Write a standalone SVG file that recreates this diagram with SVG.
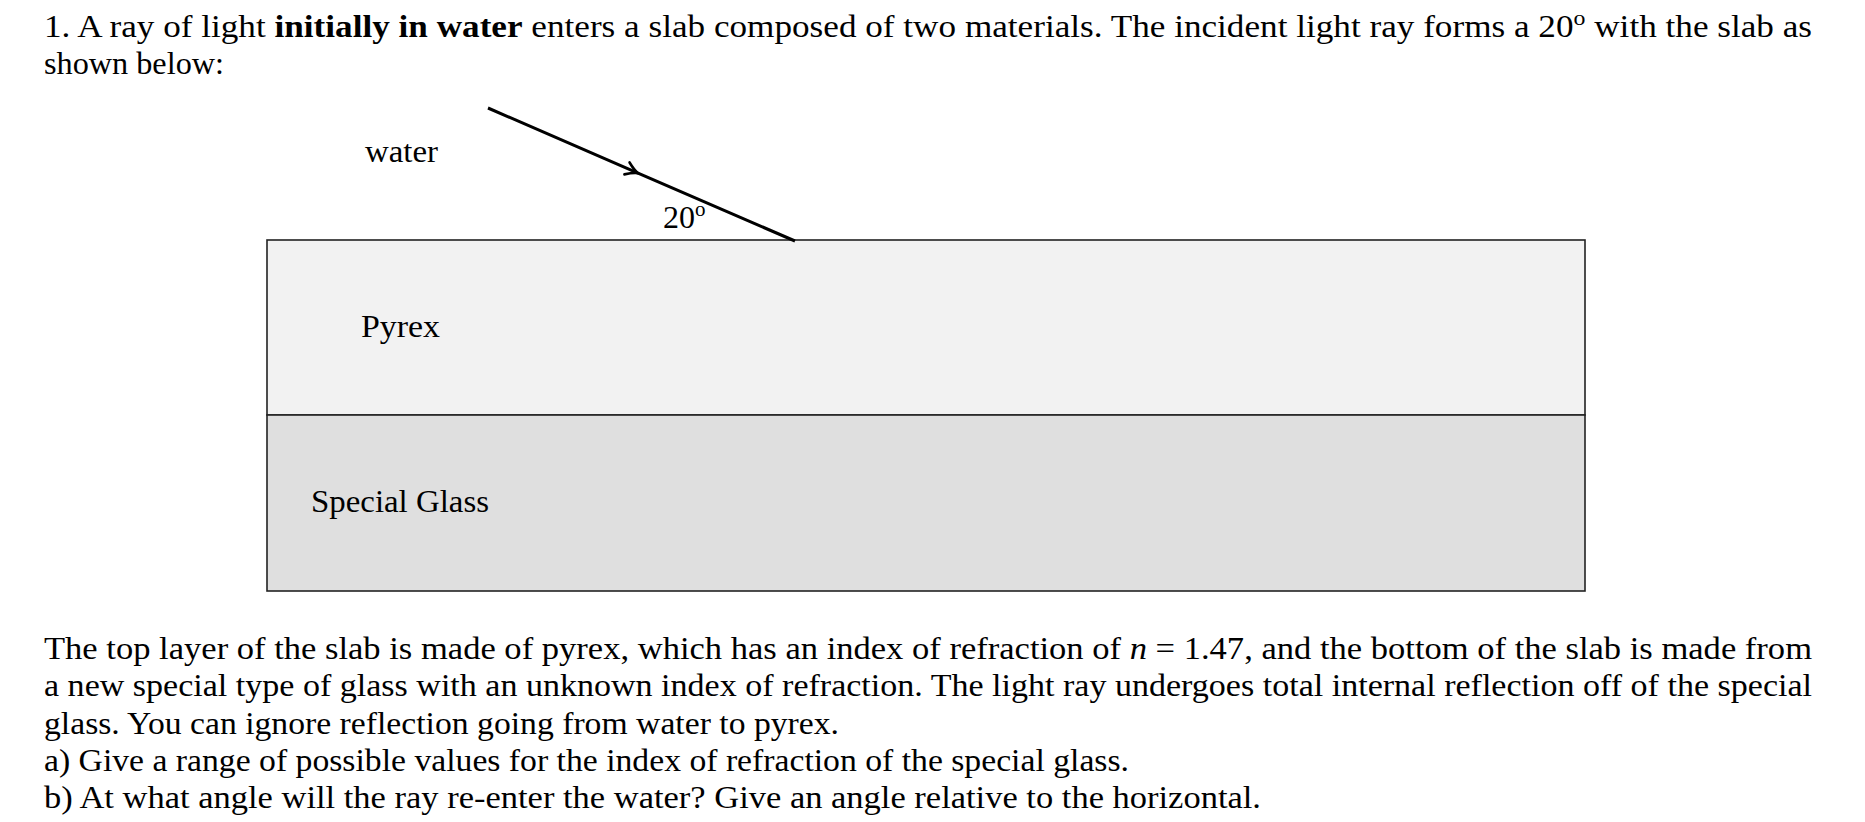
<svg xmlns="http://www.w3.org/2000/svg" width="1865" height="822" viewBox="0 0 1865 822">
<style>
  text { font-family: "Liberation Serif", "Times New Roman", serif; fill: #000; }
  .body { font-size: 31px; }
  .lbl { font-size: 32px; }
  .b { font-weight: bold; }
  .i { font-style: italic; }
  .layer { stroke: #222; stroke-width: 1.6; }
  .ray { stroke: #000; stroke-width: 3; fill: none; }
</style>
<defs>
  <marker id="arr" markerWidth="18" markerHeight="16" viewBox="-14 -8 16 16" refX="0" refY="0" orient="auto" markerUnits="userSpaceOnUse">
    <path d="M -12 -6.5 Q -5 -1.5 0 0 Q -5 1.5 -12 6.5" fill="none" stroke="#000" stroke-width="2.6" stroke-linecap="round"/>
  </marker>
</defs>
<rect width="1865" height="822" fill="#fff"/>

<g id="text-top" class="body">
  <text x="44" y="37" textLength="1768" lengthAdjust="spacingAndGlyphs">1. A ray of light <tspan class="b">initially in water</tspan> enters a slab composed of two materials. The incident light ray forms a 20<tspan font-size="21" dy="-12">o</tspan><tspan dy="12"> with the slab as</tspan></text>
  <text x="44" y="74" textLength="180" lengthAdjust="spacingAndGlyphs">shown below:</text>
</g>

<g id="pyrex">
  <rect class="layer" x="267" y="240" width="1318" height="175" fill="#f2f2f2"/>
  <text class="lbl" x="361" y="337" textLength="79" lengthAdjust="spacingAndGlyphs">Pyrex</text>
</g>
<g id="special-glass">
  <rect class="layer" x="267" y="415" width="1318" height="176" fill="#dfdfdf"/>
  <text class="lbl" x="311" y="512" textLength="178" lengthAdjust="spacingAndGlyphs">Special Glass</text>
</g>
<g id="water">
  <text class="lbl" x="365" y="162" textLength="73" lengthAdjust="spacingAndGlyphs">water</text>
</g>

<g id="connectors">
  <path class="ray" d="M 488 108 L 638 173.2 L 795 241" marker-mid="url(#arr)"/>
  <text class="lbl" x="663" y="228">20<tspan font-size="21" dy="-12">o</tspan></text>
</g>

<g id="text-bottom" class="body">
  <text x="44" y="659" textLength="1768" lengthAdjust="spacingAndGlyphs">The top layer of the slab is made of pyrex, which has an index of refraction of <tspan class="i">n</tspan> = 1.47, and the bottom of the slab is made from</text>
  <text x="44" y="696" textLength="1768" lengthAdjust="spacingAndGlyphs">a new special type of glass with an unknown index of refraction. The light ray undergoes total internal reflection off of the special</text>
  <text x="44" y="734" textLength="795" lengthAdjust="spacingAndGlyphs">glass. You can ignore reflection going from water to pyrex.</text>
  <text x="44" y="771" textLength="1085" lengthAdjust="spacingAndGlyphs">a) Give a range of possible values for the index of refraction of the special glass.</text>
  <text x="44" y="808" textLength="1217" lengthAdjust="spacingAndGlyphs">b) At what angle will the ray re-enter the water? Give an angle relative to the horizontal.</text>
</g>
</svg>
